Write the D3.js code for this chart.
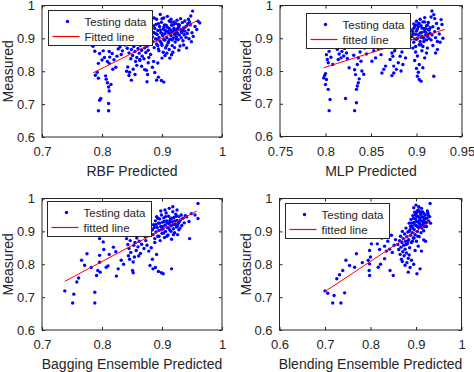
<!DOCTYPE html>
<html>
<head>
<meta charset="utf-8">
<title>Measured vs predicted</title>
<script src="https://d3js.org/d3.v7.min.js"></script>
<style>
  body { margin: 0; background: #fff; }
  text { font-family: Arial, "Liberation Sans", sans-serif; fill: #262626; }
</style>
</head>
<body>
<div id="chart"></div>
<script>
// [predicted, measured]
var rbfPoints = [
  [0.794,0.680],[0.811,0.680],[0.796,0.712],[0.798,0.717],[0.811,0.702],[0.812,0.740],[0.811,0.752],[0.809,0.765],[0.807,0.776],[0.794,0.779],
  [0.789,0.788],[0.792,0.797],[0.806,0.786],[0.815,0.760],[0.796,0.854],[0.800,0.834],[0.794,0.824],[0.804,0.842],[0.809,0.830],[0.812,0.824],
  [0.813,0.843],[0.812,0.860],[0.817,0.854],[0.802,0.862],[0.788,0.861],[0.785,0.876],[0.820,0.835],[0.825,0.846],[0.823,0.812],[0.818,0.806],
  [0.830,0.874],[0.834,0.862],[0.838,0.880],[0.832,0.851],[0.827,0.868],
  [0.842,0.870],[0.845,0.856],[0.847,0.884],[0.849,0.866],[0.851,0.848],[0.853,0.875],[0.855,0.860],[0.857,0.887],[0.858,0.842],[0.860,0.869],
  [0.862,0.855],[0.864,0.878],[0.866,0.864],[0.867,0.846],[0.869,0.883],[0.871,0.871],[0.873,0.857],[0.875,0.876],[0.877,0.864],[0.879,0.884],
  [0.881,0.851],[0.848,0.838],[0.856,0.830],[0.863,0.836],[0.870,0.838],[0.878,0.842],
  [0.843,0.813],[0.846,0.797],[0.845,0.787],[0.849,0.773],[0.852,0.806],[0.841,0.800],[0.855,0.790],[0.858,0.818],[0.863,0.833],[0.866,0.815],
  [0.871,0.805],[0.874,0.803],[0.876,0.790],[0.875,0.768],[0.877,0.826],[0.884,0.812],[0.888,0.796],[0.891,0.773],[0.894,0.782],[0.899,0.772],
  [0.903,0.767],[0.893,0.825],[0.886,0.830],[0.900,0.840],[0.908,0.855],[0.916,0.850],[0.913,0.840],[0.905,0.848],
  [0.884,0.905],[0.885,0.890],[0.886,0.918],[0.887,0.872],[0.888,0.930],[0.889,0.899],[0.890,0.942],[0.891,0.883],[0.892,0.912],[0.893,0.924],
  [0.894,0.868],[0.895,0.903],[0.896,0.936],[0.897,0.891],[0.898,0.918],[0.899,0.949],[0.900,0.879],[0.901,0.908],[0.902,0.928],[0.903,0.896],
  [0.904,0.941],[0.905,0.914],[0.906,0.871],[0.907,0.922],[0.908,0.902],[0.909,0.934],[0.910,0.886],[0.911,0.916],[0.912,0.953],[0.913,0.897],
  [0.914,0.926],[0.915,0.908],[0.916,0.940],[0.917,0.878],[0.918,0.919],[0.919,0.901],[0.920,0.931],[0.921,0.912],[0.922,0.889],[0.923,0.945],
  [0.924,0.905],[0.925,0.924],[0.926,0.915],[0.927,0.896],[0.928,0.936],[0.929,0.910],[0.930,0.877],[0.931,0.927],[0.932,0.902],[0.933,0.918],
  [0.934,0.948],[0.935,0.893],[0.936,0.932],[0.937,0.911],[0.938,0.922],[0.940,0.903],[0.941,0.938],[0.942,0.915],[0.944,0.926],[0.945,0.899],
  [0.947,0.941],[0.895,0.862],[0.902,0.858],[0.912,0.866],[0.921,0.872],[0.928,0.864],[0.936,0.880],[0.918,0.858],
  [0.886,0.938],[0.889,0.915],[0.892,0.896],[0.894,0.945],[0.897,0.926],[0.900,0.915],[0.903,0.934],[0.905,0.925],[0.907,0.940],[0.910,0.921],
  [0.912,0.930],[0.914,0.915],[0.916,0.923],[0.919,0.942],[0.921,0.925],[0.923,0.917],[0.926,0.930],[0.929,0.941],[0.932,0.920],[0.935,0.925],
  [0.905,0.895],[0.911,0.890],[0.917,0.896],[0.924,0.898],[0.899,0.885],[0.893,0.878],[0.908,0.878],[0.938,0.934],[0.943,0.945],[0.900,0.960],
  [0.915,0.950],[0.927,0.942],
  [0.887,0.962],[0.891,0.958],[0.897,0.973],[0.903,0.962],[0.909,0.967],[0.915,0.958],[0.920,0.950],[0.925,0.955],[0.931,0.960],[0.938,0.953],
  [0.944,0.958],[0.951,0.983],[0.948,0.968],
  [0.950,0.917],[0.952,0.906],[0.941,0.871],[0.958,0.927],[0.963,0.947],[0.960,0.952],[0.955,0.936],[0.949,0.890],[0.946,0.950]
];

var mlpPoints = [
  [0.799,0.786],[0.798,0.779],[0.800,0.792],[0.801,0.774],[0.800,0.759],[0.803,0.744],[0.805,0.713],[0.804,0.679],[0.801,0.850],[0.802,0.835],
  [0.803,0.825],[0.806,0.842],[0.804,0.860],[0.808,0.820],
  [0.813,0.866],[0.815,0.852],[0.816,0.874],[0.817,0.840],[0.818,0.860],[0.819,0.882],[0.820,0.846],[0.821,0.869],[0.823,0.855],[0.824,0.838],
  [0.814,0.835],[0.822,0.716],[0.826,0.810],[0.825,0.877],
  [0.832,0.679],[0.834,0.703],[0.834,0.744],[0.835,0.754],[0.836,0.764],[0.837,0.776],[0.833,0.789],[0.832,0.804],[0.835,0.820],[0.839,0.830],
  [0.840,0.800],[0.842,0.790],[0.836,0.840],[0.838,0.858],[0.831,0.848],[0.843,0.870],[0.845,0.852],[0.841,0.880],
  [0.850,0.874],[0.853,0.862],[0.856,0.880],[0.858,0.868],[0.861,0.850],[0.863,0.877],[0.855,0.840],[0.862,0.794],[0.864,0.805],[0.866,0.815],
  [0.851,0.830],
  [0.871,0.835],[0.875,0.815],[0.875,0.794],[0.873,0.786],[0.878,0.805],[0.880,0.825],[0.882,0.845],[0.884,0.858],[0.877,0.870],[0.873,0.855],
  [0.879,0.880],[0.886,0.872],[0.888,0.840],[0.885,0.820],[0.889,0.885],[0.870,0.878],[0.874,0.845],[0.883,0.800],[0.876,0.862],
  [0.895,0.905],[0.896,0.920],[0.897,0.888],[0.898,0.935],[0.899,0.912],[0.900,0.897],[0.901,0.928],[0.902,0.944],[0.903,0.880],[0.904,0.916],
  [0.905,0.903],[0.906,0.931],[0.907,0.950],[0.908,0.890],[0.909,0.922],[0.910,0.909],[0.911,0.938],[0.912,0.870],[0.913,0.926],[0.914,0.899],
  [0.915,0.915],[0.896,0.870],[0.899,0.858],[0.901,0.846],[0.898,0.832],[0.903,0.820],[0.900,0.808],[0.902,0.796],[0.901,0.784],[0.903,0.774],
  [0.905,0.769],[0.907,0.810],[0.909,0.840],[0.911,0.855],[0.906,0.862],[0.904,0.958],[0.909,0.963],[0.900,0.952],[0.913,0.948],[0.897,0.944],
  [0.894,0.925],[0.893,0.896],[0.905,0.938],[0.908,0.900],[0.912,0.906],[0.902,0.910],[0.910,0.929],[0.906,0.918],[0.899,0.940],
  [0.896,0.912],[0.898,0.898],[0.900,0.922],[0.902,0.935],[0.904,0.890],[0.906,0.906],[0.908,0.930],[0.910,0.918],[0.912,0.940],[0.914,0.925],
  [0.897,0.930],[0.903,0.945],[0.909,0.950],[0.911,0.895],[0.905,0.880],[0.913,0.912],[0.899,0.875],[0.907,0.875],[0.915,0.932],[0.901,0.900],
  [0.917,0.983],[0.919,0.972],[0.927,0.957],[0.928,0.942],[0.923,0.866],[0.921,0.855],[0.919,0.784],[0.925,0.913],[0.929,0.900],[0.918,0.935],
  [0.920,0.920],[0.922,0.945],[0.924,0.930],[0.916,0.895],[0.918,0.878],[0.920,0.960],[0.926,0.888],[0.917,0.910],[0.921,0.902],[0.923,0.890],
  [0.916,0.965]
];

var baggingPoints = [
  [0.738,0.719],[0.753,0.709],[0.751,0.682],[0.758,0.746],[0.761,0.758],[0.766,0.812],[0.771,0.797],[0.775,0.832],[0.788,0.715],[0.788,0.682],
  [0.791,0.766],[0.793,0.781],[0.797,0.776],[0.796,0.827],[0.796,0.806],[0.796,0.878],[0.802,0.868],[0.800,0.888],[0.807,0.791],[0.810,0.795],
  [0.819,0.852],[0.824,0.764],[0.827,0.786],[0.832,0.812],[0.836,0.800],[0.803,0.845],[0.812,0.830],[0.782,0.790],[0.823,0.838],
  [0.841,0.878],[0.843,0.860],[0.845,0.848],[0.847,0.872],[0.848,0.836],[0.850,0.888],[0.852,0.807],[0.851,0.781],[0.852,0.774],[0.853,0.858],
  [0.854,0.822],[0.855,0.866],[0.857,0.842],[0.858,0.880],[0.860,0.853],[0.862,0.870],[0.864,0.833],[0.866,0.861],[0.868,0.890],[0.870,0.848],
  [0.846,0.815],[0.849,0.895],[0.856,0.898],[0.844,0.826],[0.861,0.825],
  [0.880,0.796],[0.885,0.786],[0.889,0.790],[0.894,0.778],[0.899,0.774],[0.902,0.771],[0.916,0.786],[0.884,0.815],[0.891,0.830],[0.878,0.840],
  [0.875,0.858],[0.873,0.872],[0.882,0.850],[0.888,0.866],
  [0.884,0.905],[0.885,0.890],[0.886,0.920],[0.888,0.878],[0.889,0.932],[0.890,0.898],[0.891,0.945],[0.892,0.912],[0.893,0.885],[0.894,0.925],
  [0.895,0.903],[0.896,0.938],[0.897,0.872],[0.898,0.915],[0.899,0.950],[0.900,0.894],[0.901,0.928],[0.902,0.908],[0.903,0.941],[0.904,0.881],
  [0.905,0.919],[0.906,0.900],[0.907,0.956],[0.908,0.932],[0.909,0.912],[0.910,0.889],[0.911,0.946],[0.912,0.923],[0.913,0.904],[0.914,0.937],
  [0.915,0.917],[0.916,0.876],[0.917,0.929],[0.918,0.960],[0.919,0.908],[0.920,0.942],[0.921,0.896],[0.922,0.921],[0.923,0.952],[0.924,0.913],
  [0.925,0.933],[0.926,0.890],[0.927,0.925],[0.928,0.945],[0.930,0.910],[0.931,0.935],[0.933,0.918],[0.935,0.940],[0.937,0.926],[0.939,0.948],
  [0.887,0.912],[0.890,0.920],[0.893,0.940],[0.896,0.925],[0.899,0.905],[0.901,0.915],[0.904,0.930],[0.906,0.945],[0.909,0.925],[0.911,0.910],
  [0.913,0.930],[0.916,0.940],[0.918,0.920],[0.921,0.932],[0.924,0.946],[0.926,0.918],[0.929,0.930],[0.932,0.950],[0.903,0.895],[0.908,0.885],
  [0.915,0.900],[0.919,0.890],[0.895,0.885],[0.928,0.905],
  [0.905,0.965],[0.912,0.970],[0.918,0.975],[0.898,0.962],[0.925,0.965],
  [0.949,0.954],[0.946,0.878],[0.960,0.985],[0.960,0.939],[0.941,0.944],[0.955,0.950],[0.945,0.930],
  [0.876,0.895],[0.879,0.905],[0.872,0.884]
];

var blendingPoints = [
  [0.700,0.719],[0.706,0.712],[0.717,0.682],[0.720,0.705],[0.735,0.682],[0.743,0.713],[0.726,0.756],[0.732,0.768],[0.739,0.781],[0.746,0.812],
  [0.754,0.796],[0.765,0.791],[0.769,0.832],[0.782,0.805],
  [0.798,0.842],[0.800,0.822],[0.798,0.801],[0.797,0.781],[0.798,0.766],[0.802,0.862],[0.795,0.812],
  [0.817,0.791],[0.822,0.800],[0.831,0.817],[0.843,0.781],[0.850,0.766],[0.846,0.888],[0.831,0.855],[0.838,0.870],[0.825,0.880],[0.842,0.846],
  [0.848,0.836],[0.852,0.858],[0.835,0.840],[0.815,0.862],[0.855,0.875],[0.820,0.845],
  [0.860,0.860],[0.862,0.845],[0.864,0.872],[0.865,0.830],[0.866,0.885],[0.867,0.852],[0.868,0.815],[0.869,0.866],[0.870,0.900],[0.871,0.838],
  [0.872,0.878],[0.873,0.858],[0.874,0.826],[0.875,0.892],[0.876,0.846],[0.877,0.870],[0.878,0.910],[0.879,0.834],[0.880,0.884],[0.881,0.862],
  [0.882,0.898],[0.883,0.818],[0.884,0.875],[0.885,0.925],[0.886,0.850],[0.887,0.905],[0.888,0.888],[0.889,0.936],[0.890,0.866],[0.891,0.916],
  [0.892,0.896],[0.893,0.948],[0.894,0.880],[0.895,0.927],[0.896,0.906],[0.897,0.958],[0.898,0.890],[0.899,0.938],[0.900,0.918],[0.901,0.870],
  [0.902,0.946],[0.903,0.900],[0.904,0.930],[0.905,0.965],[0.906,0.912],[0.907,0.884],[0.908,0.940],[0.909,0.922],[0.910,0.952],[0.911,0.896],
  [0.912,0.932],[0.913,0.910],[0.914,0.960],[0.915,0.920],[0.916,0.943],[0.917,0.902],[0.918,0.935],[0.919,0.915],[0.920,0.950],[0.922,0.928],
  [0.924,0.940],[0.926,0.955],[0.928,0.932],[0.930,0.945],
  [0.885,0.900],[0.888,0.915],[0.890,0.925],[0.893,0.910],[0.895,0.940],[0.897,0.920],[0.899,0.950],[0.901,0.930],[0.903,0.915],[0.905,0.945],
  [0.907,0.925],[0.909,0.935],[0.911,0.915],[0.913,0.945],[0.915,0.930],[0.917,0.955],[0.919,0.925],[0.921,0.940],[0.923,0.915],[0.908,0.960],
  [0.901,0.955],[0.892,0.870],[0.896,0.880],[0.904,0.885],[0.878,0.860],[0.882,0.870],
  [0.895,0.972],[0.900,0.980],[0.906,0.975],[0.912,0.970],[0.903,0.962],
  [0.876,0.797],[0.883,0.776],[0.887,0.790],[0.902,0.771],[0.909,0.786],[0.880,0.805],[0.890,0.812],[0.895,0.800],[0.885,0.828],[0.898,0.842],
  [0.905,0.855],[0.912,0.840],[0.870,0.808],[0.917,0.874],
  [0.931,0.985],[0.927,0.949],[0.921,0.870],[0.925,0.962],[0.932,0.925]
];

// fitted line end points [predicted, measured]
var rbfFit = [[0.785, 0.795], [0.960, 0.955]];
var mlpFit = [[0.798, 0.810], [0.931, 0.927]];
var baggingFit = [[0.738, 0.748], [0.958, 0.962]];
var blendingFit = [[0.700, 0.717], [0.930, 0.928]];

var rbfTicks = [0.7, 0.8, 0.9, 1];
var mlpTicks = [0.75, 0.8, 0.85, 0.9, 0.95];
var baggingTicks = [0.7, 0.8, 0.9, 1];
var blendingTicks = [0.6, 0.7, 0.8, 0.9, 1];
var measuredTicks = [0.6, 0.7, 0.8, 0.9, 1];

var xLabels = ["RBF Predicted", "MLP Predicted", "Bagging Ensemble Predicted", "Blending Ensemble Predicted"];
var legendNames = [["Testing data", "Fitted line"], ["Testing data", "fitted line"],
                   ["Testing data", "fitted line"], ["Testing data", "fitted line"]];

var panels = [
  {pts: rbfPoints, fit: rbfFit, ticks: rbfTicks, x: 42, y: 5.5, w: 180, h: 131.5, lx: 48, ly: 10},
  {pts: mlpPoints, fit: mlpFit, ticks: mlpTicks, x: 280, y: 5.5, w: 182, h: 131, lx: 306, ly: 13},
  {pts: baggingPoints, fit: baggingFit, ticks: baggingTicks, x: 42, y: 198.5, w: 180, h: 131.5, lx: 47, ly: 201},
  {pts: blendingPoints, fit: blendingFit, ticks: blendingTicks, x: 279.5, y: 198.5, w: 182, h: 131.5, lx: 285, ly: 203}
];

var svg = d3.select("#chart").append("svg")
  .attr("width", 474)
  .attr("height", 372);

var axisColor = "#262626";
var dotColor = "#0000ff";
var fitColor = "#ff0000";

panels.forEach(function (p, i) {
  var g = svg.append("g").attr("transform", "translate(" + p.x + "," + p.y + ")");

  var x = d3.scaleLinear()
    .domain([p.ticks[0], p.ticks[p.ticks.length - 1]])
    .range([0, p.w]);
  var y = d3.scaleLinear()
    .domain([0.6, 1])
    .range([p.h, 0]);

  // dots
  g.append("g")
    .selectAll("circle")
    .data(p.pts)
    .enter()
    .append("circle")
    .attr("cx", function (d) { return x(d[0]); })
    .attr("cy", function (d) { return y(d[1]); })
    .attr("r", 1.7)
    .attr("fill", dotColor);

  // fitted line
  g.append("path")
    .datum(p.fit)
    .attr("d", d3.line().x(function (d) { return x(d[0]); }).y(function (d) { return y(d[1]); }))
    .attr("fill", "none")
    .attr("stroke", fitColor)
    .attr("stroke-width", 1);

  // axes, ticks pointing inward
  var fmt = function (d) { return String(d); };
  var axBottom = g.append("g")
    .attr("transform", "translate(0," + p.h + ")")
    .call(d3.axisBottom(x).tickValues(p.ticks).tickFormat(fmt).tickSize(-3).tickPadding(10));
  var axLeft = g.append("g")
    .call(d3.axisLeft(y).tickValues(measuredTicks).tickFormat(fmt).tickSize(-3).tickPadding(7));
  var axTop = g.append("g")
    .call(d3.axisTop(x).tickValues(p.ticks).tickFormat("").tickSize(-3));
  var axRight = g.append("g")
    .attr("transform", "translate(" + p.w + ",0)")
    .call(d3.axisRight(y).tickValues(measuredTicks).tickFormat("").tickSize(-3));

  [axBottom, axLeft, axTop, axRight].forEach(function (a) {
    a.select(".domain").remove();
    a.selectAll(".tick line").attr("stroke", axisColor);
    a.selectAll(".tick text")
      .style("font-size", "13px")
      .style("fill", axisColor);
  });

  g.append("rect")
    .attr("width", p.w)
    .attr("height", p.h)
    .attr("fill", "none")
    .attr("stroke", axisColor)
    .attr("stroke-width", 1);

  // axis titles
  g.append("text")
    .attr("x", p.w / 2)
    .attr("y", p.h + 39)
    .attr("text-anchor", "middle")
    .style("font-size", "14px")
    .text(xLabels[i]);

  g.append("text")
    .attr("transform", "translate(-29," + (p.h / 2) + ") rotate(-90)")
    .attr("text-anchor", "middle")
    .style("font-size", "14px")
    .text("Measured");

  // legend
  var lg = svg.append("g").attr("transform", "translate(" + (p.lx + 0.5) + "," + (p.ly + 0.5) + ")");
  lg.append("rect")
    .attr("width", 104)
    .attr("height", 35)
    .attr("fill", "#fff")
    .attr("stroke", axisColor)
    .attr("stroke-width", 1);
  lg.append("circle")
    .attr("cx", 19)
    .attr("cy", 11)
    .attr("r", 1.7)
    .attr("fill", dotColor);
  lg.append("path")
    .attr("d", "M4,26H31")
    .attr("fill", "none")
    .attr("stroke", fitColor)
    .attr("stroke-width", 1.2);
  lg.selectAll("text.entry")
    .data(legendNames[i])
    .enter()
    .append("text")
    .attr("class", "entry")
    .attr("x", 36)
    .attr("y", function (d, k) { return 11 + k * 15; })
    .attr("dy", "0.35em")
    .style("font-size", "11.5px")
    .text(function (d) { return d; });
});
</script>
</body>
</html>
